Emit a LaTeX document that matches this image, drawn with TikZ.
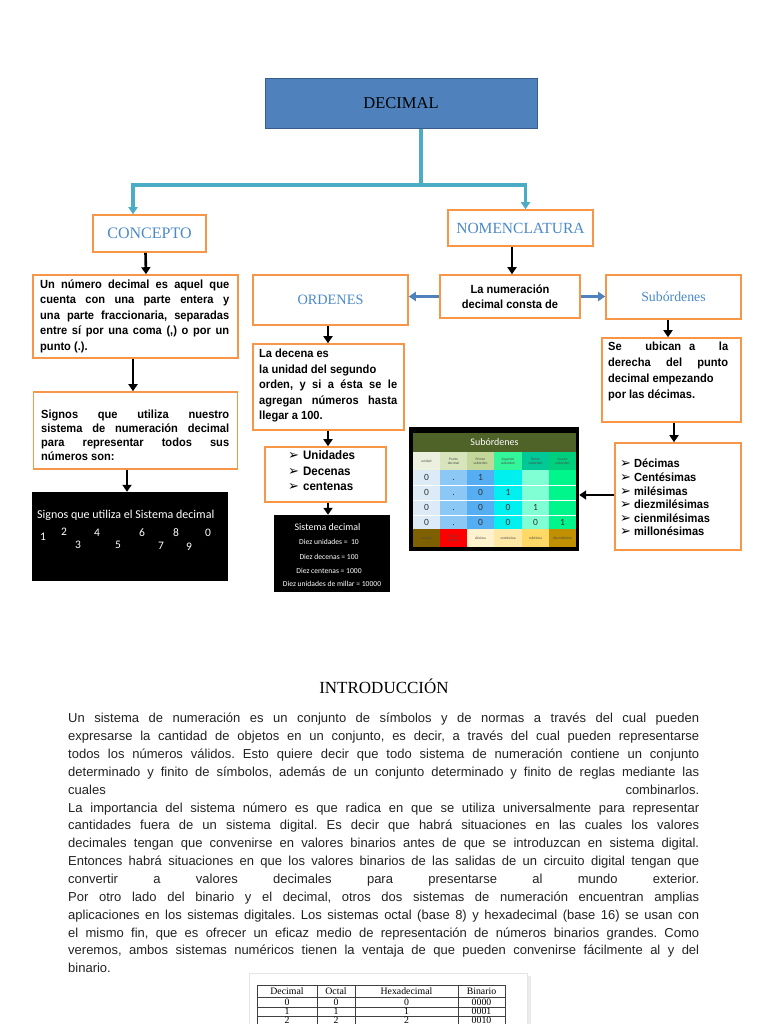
\documentclass[tikz,border=0pt]{standalone}
\usepackage{fontspec}
\setmainfont{Liberation Serif}
\newfontfamily\arial{Liberation Sans}
\newfontfamily\arialb[FakeStretch=0.94]{Liberation Sans}
\newfontfamily\calib{Carlito}
\newfontfamily\dejavu{DejaVu Sans}
\usetikzlibrary{arrows.meta}
\definecolor{decfill}{HTML}{4F81BD}
\definecolor{decdraw}{HTML}{385D8A}
\definecolor{orangeb}{HTML}{F79646}
\definecolor{lblue}{HTML}{4A8AC9}
\definecolor{tealc}{HTML}{4BACC6}
\definecolor{arrblue}{HTML}{4F81BD}
\definecolor{hdgreen}{HTML}{4F6228}
\definecolor{h1}{HTML}{EBF1DE}\definecolor{h2}{HTML}{D8E4BC}\definecolor{h3}{HTML}{C4D79B}
\definecolor{h4}{HTML}{33F59A}\definecolor{h5}{HTML}{00C896}\definecolor{h6}{HTML}{00D07E}
\definecolor{d1}{HTML}{DDEBF7}\definecolor{d2}{HTML}{8CC8F5}\definecolor{d3}{HTML}{55AEF2}
\definecolor{d4}{HTML}{00F0F0}\definecolor{d5}{HTML}{80FFD4}\definecolor{d6}{HTML}{00F58A}
\definecolor{b1}{HTML}{7F6000}\definecolor{b2}{HTML}{FF0000}\definecolor{b3}{HTML}{FFF2CC}
\definecolor{b4}{HTML}{FFE8A6}\definecolor{b5}{HTML}{FFD966}\definecolor{b6}{HTML}{C09000}
\definecolor{txtgray}{HTML}{222222}
\newcommand{\jl}[2]{\makebox[#1][s]{#2}}
\newcommand{\bul}{{\dejavu\fontsize{13}{11}\selectfont ➢}}
\frenchspacing
\begin{document}
\begin{tikzpicture}[x=1pt,y=-1pt,
  obox/.style={draw=orangeb, line width=1.6pt, fill=white, inner sep=0},
  lbl/.style={text=lblue, font=\fontsize{16}{16}\selectfont},
  btxt/.style={font=\arialb\bfseries\fontsize{11.8}{15.5}\selectfont, align=left, inner sep=0, anchor=north west},
  barr/.style={line width=2.6pt, -{Triangle[width=9pt,length=7pt]}},
  tarr/.style={draw=tealc, line width=3.2pt, -{Triangle[width=9pt,length=7pt]}},
  blarr/.style={draw=arrblue, line width=2.6pt, -{Triangle[width=9pt,length=7pt]}},
  wtxt/.style={text=white, font=\calib, inner sep=0},
  cell/.style={inner sep=0, font=\calib\fontsize{3.6}{4}\selectfont, align=center, text=black!70},
  dig/.style={inner sep=0, font=\calib\fontsize{9.5}{9.5}\selectfont, text=black!80},
  ptxt/.style={inner sep=0, font=\arial\fontsize{13}{17.86}\selectfont, align=left, anchor=north west, text=txtgray},
  ttxt/.style={inner sep=0, font=\fontsize{9.8}{9.8}\selectfont}
]
\useasboundingbox (0,0) rectangle (768,1024);
\clip (0,0) rectangle (768,1024);
\fill[white] (0,0) rectangle (768,1024);

% ---------- top ----------
\node[draw=decdraw, fill=decfill, line width=1pt, minimum width=272pt, minimum height=50pt, font=\fontsize{16.5}{16.5}\selectfont] (dec) at (401,103.5) {DECIMAL};
\node[obox, lbl, minimum width=113pt, minimum height=37pt] (concepto) at (149.5,233.5) {CONCEPTO};
\node[obox, lbl, font=\fontsize{15.5}{15.5}\selectfont, minimum width=145pt, minimum height=36pt] (nomen) at (520.5,228) {NOMENCLATURA};
\coordinate (j) at (421,185);
\coordinate (jl) at (133,185);
\coordinate (jr) at (525.5,185);
\draw[draw=tealc, line width=3.2pt] ([xshift=20pt]dec.south) -- (j);
\draw[tarr] (j) -- (jl) -- (jl |- concepto.north);
\draw[tarr] (j) -- (jr) -- (jr |- nomen.north);

% ---------- concepto branch ----------
\node[obox, minimum width=205pt, minimum height=83pt] (ctext) at (135.5,316.5) {};
\node[btxt] (ctextt) at (40,279.5) {\jl{189pt}{Un número decimal es aquel que}\\
\jl{189pt}{cuenta con una parte entera y}\\
\jl{189pt}{una parte fraccionaria, separadas}\\
\jl{189pt}{entre sí por una coma (,) o por un}\\
punto (.).};
\draw[barr] ([xshift=-4pt]concepto.south) -- ([xshift=10.5pt]ctext.north);

\node[obox, minimum width=204pt, minimum height=77pt] (signos) at (135.5,430.5) {};
\node[btxt, font=\arialb\bfseries\fontsize{11.8}{14}\selectfont] (signost) at (41,409.5) {\jl{188pt}{Signos que utiliza nuestro}\\
\jl{188pt}{sistema de numeración decimal}\\
\jl{188pt}{para representar todos sus}\\
números son:};
\draw[barr] ([xshift=-2.5pt]ctext.south) -- ([xshift=-2.5pt]signos.north);

\node[fill=black, minimum width=196pt, minimum height=89pt, inner sep=0] (blk1) at (130,536.5) {};
\node[wtxt, font=\calib\fontsize{12}{12}\selectfont, anchor=west] (blk1t) at (37,515) {Signos que utiliza el Sistema decimal};
\foreach \d/\xx/\yy in {1/43/537, 2/64/532, 3/78/545, 4/97/533, 5/118/545, 6/142/533, 7/161/546, 8/176/533, 9/189/547, 0/208/533}{
  \node[wtxt, font=\calib\fontsize{11.5}{11.5}\selectfont] (dg\d) at (\xx,\yy) {\d};
}
\draw[barr] ([xshift=-8.5pt]signos.south) -- ([xshift=-3pt]blk1.north);

% ---------- nomenclatura branch ----------
\node[obox, minimum width=140pt, minimum height=43pt] (consta) at (510,296.5) {};
\node[inner sep=0, font=\arialb\bfseries\fontsize{11.8}{15}\selectfont, align=center] (constat) at (510,296.5) {La numeración\\decimal consta de};
\draw[barr] ([xshift=-8.5pt]nomen.south) -- ([xshift=2pt]consta.north);

\node[obox, lbl, font=\fontsize{14.3}{14.3}\selectfont, minimum width=155pt, minimum height=50pt] (ordenes) at (330.5,300) {ORDENES};
\node[obox, lbl, font=\fontsize{13.8}{13.8}\selectfont, minimum width=135pt, minimum height=44pt] (subord) at (673.5,297) {Subórdenes};
\draw[blarr] (consta.west) -- (consta.west -| ordenes.east);
\draw[blarr] (consta.east) -- (consta.east -| subord.west);

\node[obox, minimum width=151pt, minimum height=86pt] (decena) at (328.5,387) {};
\node[btxt] (decenat) at (259,349) {La decena es\\
la unidad del segundo\\
\jl{138pt}{orden, y si a ésta se le}\\
\jl{138pt}{agregan números hasta}\\
llegar a 100.};
\draw[barr] ([xshift=-2.5pt]ordenes.south) -- ([xshift=-0.5pt]decena.north);

\node[obox, minimum width=121pt, minimum height=55pt] (unid) at (325.5,474.5) {};
\node[btxt, font=\arialb\bfseries\fontsize{12.3}{15.5}\selectfont] (unidt) at (288,450.5) {\bul\hspace{4pt}Unidades\\ \bul\hspace{4pt}Decenas\\ \bul\hspace{4pt}centenas};
\draw[barr] ([xshift=-0.5pt]decena.south) -- ([xshift=2.5pt]unid.north);

\node[fill=black, minimum width=116pt, minimum height=77pt, inner sep=0] (blk2) at (332,553.5) {};
\node[wtxt, font=\calib\fontsize{10}{10}\selectfont] (b2a) at (327.5,527) {Sistema decimal};
\node[wtxt, font=\calib\fontsize{7.6}{7.6}\selectfont] (b2b) at (329,542) {Diez unidades = \ 10};
\node[wtxt, font=\calib\fontsize{7.6}{7.6}\selectfont] (b2c) at (329,557) {Diez decenas = 100};
\node[wtxt, font=\calib\fontsize{7.6}{7.6}\selectfont] (b2d) at (329,571) {Diez centenas = 1000};
\node[wtxt, font=\calib\fontsize{7.6}{7.6}\selectfont] (b2e) at (332,583.5) {Diez unidades de millar = 10000};
\draw[barr] ([xshift=2.5pt]unid.south) -- ([xshift=-4pt]blk2.north);

\node[obox, minimum width=139pt, minimum height=84pt] (ubican) at (671.5,380) {};
\node[btxt, font=\arialb\bfseries\fontsize{11.8}{15.8}\selectfont] (ubicant) at (608,342) {\jl{120pt}{Se \ \ ubican a \ \ la}\\
\jl{120pt}{derecha del punto}\\
decimal empezando\\
por las décimas.};
\draw[barr] ([xshift=-5.5pt]subord.south) -- ([xshift=-3.5pt]ubican.north);

\node[obox, minimum width=126pt, minimum height=107pt] (decimas) at (678,496.5) {};
\node[btxt, font=\arialb\bfseries\fontsize{11.8}{13.6}\selectfont] (decimast) at (620,459) {\bul\hspace{3pt}Décimas\\ \bul\hspace{3pt}Centésimas\\ \bul\hspace{3pt}milésimas\\ \bul\hspace{3pt}diezmilésimas\\ \bul\hspace{3pt}cienmilésimas\\ \bul\hspace{3pt}millonésimas};
\draw[barr] ([xshift=2.5pt]ubican.south) -- ([xshift=-4pt]decimas.north);

% ---------- table image ----------
\node[fill=black, minimum width=170pt, minimum height=124pt, inner sep=0] (tab) at (494,489) {};
\fill[hdgreen] (413,433) rectangle (576,452);
\node[wtxt, font=\calib\fontsize{10}{10}\selectfont] (tabh) at (494.5,442.5) {Subórdenes};
\def\cx{{413,440,467,494,522,549,576}}
\foreach \i/\ca/\cb/\cc in {1/h1/d1/b1, 2/h2/d2/b2, 3/h3/d3/b3, 4/h4/d4/b4, 5/h5/d5/b5, 6/h6/d6/b6}{
  \pgfmathsetmacro{\xa}{\cx[\i-1]}
  \pgfmathsetmacro{\xb}{\cx[\i]}
  \fill[\ca] (\xa,452) rectangle (\xb,470);
  \fill[\cb] (\xa,470) rectangle (\xb,529);
  \fill[\cc] (\xa,529) rectangle (\xb,547);
}
\foreach \y in {485,500,515}{ \draw[white, line width=0.5pt] (413,\y) -- (576,\y); }
\foreach \t/\xx/\n in {unidad/426.5/1, {Punto\\decimal}/453.5/2, {Primer\\suborden}/480.5/3, {Segundo\\suborden}/508/4, {Tercer\\suborden}/535.5/5, {Cuarto\\suborden}/562.5/6}{
  \node[cell] (ht\n) at (\xx,461) {\t};
}
\foreach \t/\xx/\n in {unidad/426.5/1, {Punto\\decimal}/453.5/2, décima/480.5/3, centésima/508/4, milésima/535.5/5, diezmilésima/562.5/6}{
  \node[cell] (bt\n) at (\xx,538) {\t};
}
\foreach \r/\yy in {1/477.5, 2/492.5, 3/507.5, 4/522}{
  \node[dig] (z\r) at (426.5,\yy) {0};
  \node[dig, anchor=base] (p\r) at (453.5,\yy+3) {.};
}
\node[dig] (r11) at (480.5,477.5) {1};
\node[dig] (r21) at (480.5,492.5) {0};\node[dig] (r22) at (508,492.5) {1};
\node[dig] (r31) at (480.5,507.5) {0};\node[dig] (r32) at (508,507.5) {0};\node[dig] (r33) at (535.5,507.5) {1};
\node[dig] (r41) at (480.5,522) {0};\node[dig] (r42) at (508,522) {0};\node[dig] (r43) at (535.5,522) {0};\node[dig] (r44) at (562.5,522) {1};
\draw[barr] ([yshift=1.5pt]decimas.west) -- ([yshift=1.5pt]decimas.west -| tab.east);

% ---------- introduction ----------
\node[inner sep=0, font=\fontsize{17}{17}\selectfont] (intro) at (384,686) {INTRODUCCIÓN};
\node[ptxt] (para) at (68,713) {%
\jl{631pt}{Un sistema de numeración es un conjunto de símbolos y de normas a través del cual pueden}\\
\jl{631pt}{expresarse la cantidad de objetos en un conjunto, es decir, a través del cual pueden representarse}\\
\jl{631pt}{todos los números válidos. Esto quiere decir que todo sistema de numeración contiene un conjunto}\\
\jl{631pt}{determinado y finito de símbolos, además de un conjunto determinado y finito de reglas mediante las}\\
\jl{631pt}{cuales combinarlos.}\\
\jl{631pt}{La importancia del sistema número es que radica en que se utiliza universalmente para representar}\\
\jl{631pt}{cantidades fuera de un sistema digital. Es decir que habrá situaciones en las cuales los valores}\\
\jl{631pt}{decimales tengan que convenirse en valores binarios antes de que se introduzcan en sistema digital.}\\
\jl{631pt}{Entonces habrá situaciones en que los valores binarios de las salidas de un circuito digital tengan que}\\
\jl{631pt}{convertir a valores decimales para presentarse al mundo exterior.}\\
\jl{631pt}{Por otro lado del binario y el decimal, otros dos sistemas de numeración encuentran amplias}\\
\jl{631pt}{aplicaciones en los sistemas digitales. Los sistemas octal (base 8) y hexadecimal (base 16) se usan con}\\
\jl{631pt}{el mismo fin, que es ofrecer un eficaz medio de representación de números binarios grandes. Como}\\
\jl{631pt}{veremos, ambos sistemas numéricos tienen la ventaja de que pueden convenirse fácilmente al y del}\\
binario.};

% ---------- bottom table ----------
\fill[black!8] (252,976) rectangle (531,1030);
\node[fill=white, draw=black!10, line width=0.5pt, minimum width=278pt, minimum height=80pt, inner sep=0] (btab) at (388,1013) {};
\draw[black!75, line width=0.5pt] (257,985) rectangle (505,1030);
\foreach \y in {997,1007,1016}{ \draw[black!75, line width=0.5pt] (257,\y) -- (505,\y); }
\foreach \x in {317,355,458}{ \draw[black!75, line width=0.5pt] (\x,985) -- (\x,1030); }
\node[ttxt] (bh1) at (287,991) {Decimal};
\node[ttxt] (bh2) at (336,991) {Octal};
\node[ttxt] (bh3) at (406.5,991) {Hexadecimal};
\node[ttxt] (bh4) at (481.5,991) {Binario};
\foreach \v/\b/\yy in {0/0000/1002, 1/0001/1011.5, 2/0010/1019.8}{
  \node[ttxt] (c1\v) at (287,\yy) {\v};
  \node[ttxt] (c2\v) at (336,\yy) {\v};
  \node[ttxt] (c3\v) at (406.5,\yy) {\v};
  \node[ttxt] (c4\v) at (481.5,\yy) {\b};
}
\end{tikzpicture}
\end{document}
